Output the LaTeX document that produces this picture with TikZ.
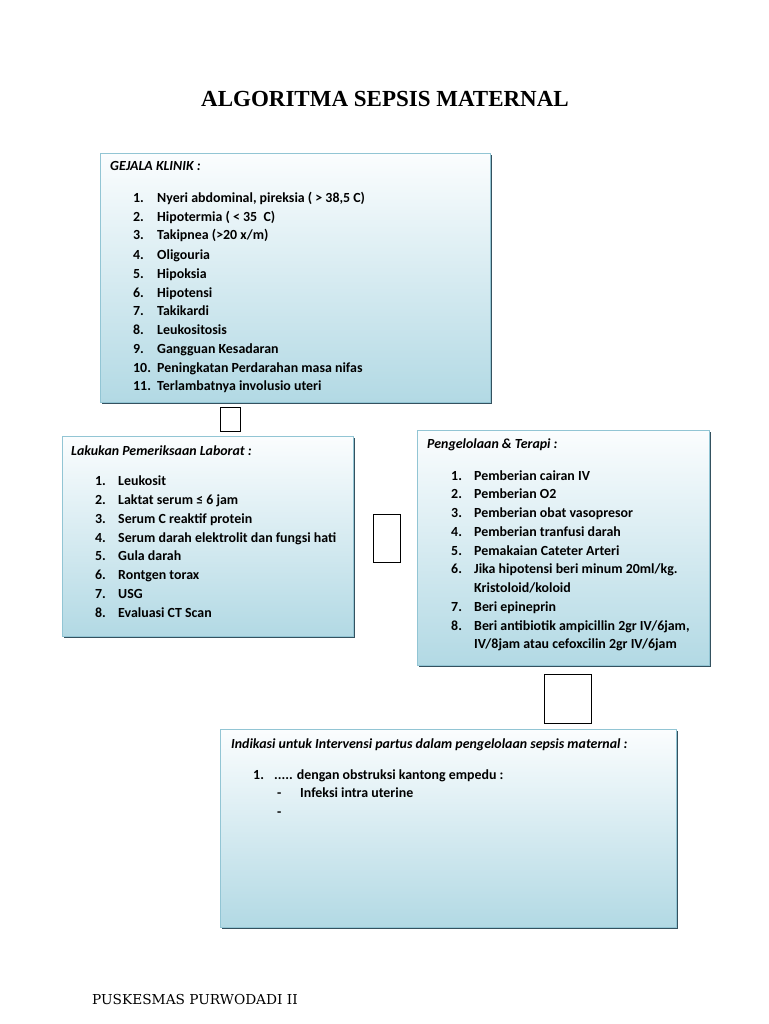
\documentclass[tikz,border=0pt]{standalone}
\usepackage{fontspec}
\setmainfont{Carlito}
\newfontfamily\seriffont{Liberation Serif}
\newfontfamily\footfont{DejaVu Serif}
\usetikzlibrary{shadows}
\definecolor{boxtop}{HTML}{FBFDFE}
\definecolor{boxbot}{HTML}{B2D9E4}
\definecolor{boxedge}{HTML}{92C5D4}
\definecolor{boxshadow}{HTML}{34515F}
\tikzset{
  panel/.style={draw=boxedge, line width=0.8pt, top color=boxtop, bottom color=boxbot,
    anchor=north west, inner sep=0pt,
    drop shadow={shadow xshift=2pt, shadow yshift=-2pt, fill=boxshadow, opacity=1}},
  sq/.style={draw=black, line width=0.8pt, fill=white, anchor=north west, inner sep=0pt},
  itm/.style={anchor=base west, inner sep=0pt, font=\bfseries\fontsize{13.9}{16}\selectfont},
  hdr/.style={anchor=base west, inner sep=0pt, font=\bfseries\itshape\fontsize{13.9}{16}\selectfont},
}
\begin{document}
\begin{tikzpicture}[x=1pt,y=-1pt]
\useasboundingbox (0,0) rectangle (768,1024);
\fill[white] (0,0) rectangle (768,1024);

\node[anchor=base, inner sep=0pt, font=\seriffont\bfseries\fontsize{23}{26}\selectfont] (title) at (385,107) {ALGORITMA SEPSIS MATERNAL};

% Box 1
\node[panel, minimum width=390pt, minimum height=249pt] (b1) at (100,153) {};
\node[hdr] (b1h) at (110,171) {GEJALA KLINIK :};
\foreach \n/\t/\y [count=\i] in {1./{Nyeri abdominal, pireksia ( > 38,5 C)}/203,
  2./{Hipotermia ( < 35~ C)}/222, 3./{Takipnea (>20 x/m)}/240, 4./{Oligouria}/259,
  5./{Hipoksia}/278, 6./{Hipotensi}/297, 7./{Takikardi}/315, 8./{Leukositosis}/334,
  9./{Gangguan Kesadaran}/353, 10./{Peningkatan Perdarahan masa nifas}/372,
  11./{Terlambatnya involusio uteri}/390}{
  \node[itm] (b1n\i) at (133,\y) {\n};
  \node[itm] (b1t\i) at (157,\y) {\t};
}

% small squares
\node[sq, minimum width=20pt, minimum height=24pt] (s1) at (220,407) {};
\node[sq, minimum width=27pt, minimum height=48pt] (s2) at (373,514) {};
\node[sq, minimum width=47pt, minimum height=49pt] (s3) at (544,674) {};

% Box 2
\node[panel, minimum width=291pt, minimum height=200pt] (b2) at (62,436) {};
\node[hdr] (b2h) at (71,455) {Lakukan Pemeriksaan Laborat :};
\foreach \n/\t/\y [count=\i] in {1./{Leukosit}/485, 2./{Laktat serum ≤ 6 jam}/504,
  3./{Serum C reaktif protein}/523, 4./{Serum darah elektrolit dan fungsi hati}/542,
  5./{Gula darah}/560, 6./{Rontgen torax}/579, 7./{USG}/598, 8./{Evaluasi CT Scan}/617}{
  \node[itm] (b2n\i) at (95,\y) {\n};
  \node[itm] (b2t\i) at (118,\y) {\t};
}

% Box 3
\node[panel, minimum width=292pt, minimum height=235pt] (b3) at (417,430) {};
\node[hdr] (b3h) at (427,448) {Pengelolaan \& Terapi :};
\foreach \n/\t/\y [count=\i] in {1./{Pemberian cairan IV}/480, 2./{Pemberian O2}/498,
  3./{Pemberian obat vasopresor}/517, 4./{Pemberian tranfusi darah}/536,
  5./{Pemakaian Cateter Arteri}/555, 6./{Jika hipotensi beri minum 20ml/kg.}/573,
  7./{Beri epineprin}/611, 8./{Beri antibiotik ampicillin 2gr IV/6jam,}/630}{
  \node[itm] (b3n\i) at (451,\y) {\n};
  \node[itm] (b3t\i) at (474,\y) {\t};
}
\node[itm] (b3c6) at (474,592) {Kristoloid/koloid};
\node[itm] (b3c8) at (474,648) {IV/8jam atau cefoxcilin 2gr IV/6jam};

% Box 4
\node[panel, minimum width=456pt, minimum height=198pt] (b4) at (220,729) {};
\node[hdr] (b4h) at (231,748) {Indikasi untuk Intervensi partus dalam pengelolaan sepsis maternal :};
\node[itm] (b4n1) at (253,779) {1.};
\node[itm] (b4t1) at (274,779) {..... dengan obstruksi kantong empedu :};
\node[itm] (b4d1) at (277,797) {-};
\node[itm] (b4t2) at (300,797) {Infeksi intra uterine};
\node[itm] (b4d2) at (277,816) {-};

% footer
\node[anchor=base west, inner sep=0pt, font=\footfont\fontsize{13.7}{15}\selectfont] (foot) at (92,1004) {PUSKESMAS PURWODADI II};
\end{tikzpicture}
\end{document}
